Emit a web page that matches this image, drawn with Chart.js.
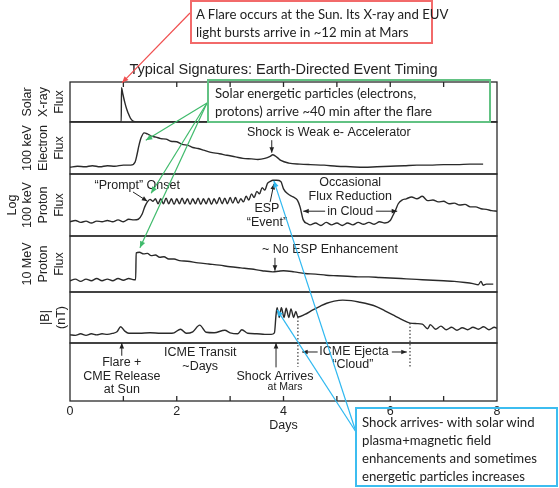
<!DOCTYPE html>
<html>
<head>
<meta charset="utf-8">
<script src="https://cdn.jsdelivr.net/npm/chart.js@4.4.1/dist/chart.umd.min.js"></script>
<style>
  html, body { margin: 0; padding: 0; background: #fff; }
  #wrap { position: relative; width: 559px; height: 488px; overflow: hidden; }
  .note { position: absolute; box-sizing: border-box; font-family: Lato, 'Open Sans', sans-serif;
          font-size: 13.2px; line-height: 18px; color: #222; white-space: nowrap; }
  #noteFlare { left: 190px; top: 0px; width: 243px; height: 44px; border: 2px solid #f26a6a; padding: 3px 4px; }
  #noteSep   { left: 207px; top: 79px; width: 284px; height: 44px; border: 2px solid #62c283; padding: 3px 6px; }
  #noteShock { left: 355px; top: 407px; width: 203px; height: 80px; border: 2px solid #3cbdf0; padding: 4px 5px; }
</style>
</head>
<body>
<div id="wrap">
  <canvas id="chart"></canvas>
  <div class="note" id="noteFlare">A Flare occurs at the Sun. Its X-ray and EUV<br>light bursts arrive in ~12 min at Mars</div>
  <div class="note" id="noteSep">Solar energetic particles (electrons,<br>protons) arrive ~40 min after the flare</div>
  <div class="note" id="noteShock">Shock arrives- with solar wind<br>plasma+magnetic field<br>enhancements and sometimes<br>energetic particles increases</div>
</div>
<script>
// [day, relative level in panel]
const xrayFlux = [[0,0],[0.96,0],[0.965,0.86],[0.99,0.7],[1.03,0.47],[1.06,0.33],[1.09,0.22],[1.13,0.1],[1.18,0.02],[1.25,0],[8,0]];

const electronFlux = [[0,0.13],[0.14,0.15],[0.28,0.14],[0.42,0.16],[0.56,0.14],[0.7,0.16],[0.84,0.15],[1.0,0.17],
  [1.14,0.17],[1.22,0.23],[1.255,0.37],[1.29,0.54],[1.33,0.69],[1.39,0.79],[1.45,0.77],[1.52,0.73],
  [1.61,0.71],[1.70,0.68],[1.80,0.67],[1.89,0.63],[2.0,0.62],[2.10,0.57],[2.21,0.55],[2.30,0.51],
  [2.40,0.49],[2.50,0.46],[2.62,0.42],[2.80,0.39],[2.94,0.36],[3.10,0.33],[3.24,0.30],[3.40,0.29],
  [3.52,0.28],[3.65,0.30],[3.75,0.34],[3.80,0.37],[3.88,0.32],[3.95,0.26],[4.10,0.21],[4.31,0.19],
  [4.50,0.18],[4.76,0.17],[5.0,0.15],[5.25,0.14],[5.51,0.13],[5.75,0.14],[6.0,0.15],[6.26,0.16],
  [6.5,0.17],[6.74,0.17],[7.0,0.18],[7.25,0.18],[7.49,0.19],[7.74,0.19]];

const protonLowFlux = [[0,0.23],[0.1,0.25],[0.2,0.22],[0.3,0.24],[0.4,0.21],[0.5,0.24],[0.6,0.23],[0.7,0.25],
  [0.8,0.23],[0.9,0.26],[1.0,0.23],[1.1,0.27],[1.2,0.26],[1.28,0.27],[1.35,0.35],[1.40,0.47],[1.45,0.55],
  [1.50,0.59],[1.55,0.56],[1.60,0.60],[1.65,0.52],[1.70,0.60],[1.75,0.52],[1.80,0.61],[1.85,0.52],
  [1.90,0.60],[1.95,0.51],[2.00,0.60],[2.05,0.52],[2.10,0.61],[2.15,0.52],[2.20,0.60],[2.25,0.51],
  [2.30,0.60],[2.35,0.52],[2.40,0.61],[2.45,0.51],[2.50,0.60],[2.55,0.52],[2.60,0.61],[2.65,0.51],
  [2.70,0.60],[2.75,0.52],[2.80,0.62],[2.85,0.52],[2.90,0.61],[2.95,0.52],[3.00,0.62],[3.05,0.53],
  [3.10,0.62],[3.15,0.53],[3.20,0.60],[3.25,0.55],[3.30,0.64],[3.35,0.58],[3.40,0.68],[3.45,0.62],
  [3.50,0.72],[3.55,0.68],[3.60,0.78],[3.65,0.74],[3.70,0.85],[3.75,0.88],[3.80,0.90],[3.87,0.90],
  [3.95,0.88],[4.00,0.76],[4.08,0.68],[4.18,0.63],[4.26,0.58],[4.31,0.47],[4.37,0.26],[4.45,0.20],
  [4.50,0.18],[4.60,0.21],[4.70,0.17],[4.80,0.22],[4.90,0.18],[5.00,0.21],[5.10,0.17],[5.20,0.21],
  [5.30,0.18],[5.40,0.22],[5.50,0.19],[5.60,0.22],[5.70,0.19],[5.80,0.23],[5.90,0.21],[6.00,0.25],
  [6.05,0.33],[6.10,0.42],[6.15,0.52],[6.22,0.58],[6.30,0.60],[6.40,0.63],[6.50,0.60],[6.60,0.64],
  [6.70,0.57],[6.80,0.58],[6.90,0.55],[7.00,0.56],[7.10,0.52],[7.20,0.53],[7.30,0.50],[7.40,0.51],
  [7.50,0.47],[7.60,0.47],[7.70,0.44],[7.80,0.43],[7.90,0.41],[8.00,0.40]];

const protonHighFlux = [[0,0.20],[0.1,0.23],[0.2,0.19],[0.3,0.23],[0.4,0.20],[0.5,0.24],[0.6,0.20],[0.7,0.23],
  [0.8,0.20],[0.9,0.24],[1.0,0.21],[1.1,0.24],[1.2,0.22],[1.23,0.22],[1.24,0.70],[1.30,0.71],[1.38,0.68],
  [1.45,0.69],[1.52,0.65],[1.60,0.66],[1.68,0.62],[1.76,0.63],[1.85,0.59],[1.95,0.59],[2.05,0.56],
  [2.2,0.55],[2.4,0.52],[2.6,0.50],[2.8,0.48],[3.0,0.45],[3.2,0.43],[3.4,0.41],[3.6,0.38],[3.8,0.36],
  [3.9,0.37],[4.0,0.38],[4.2,0.36],[4.4,0.33],[4.6,0.32],[4.8,0.30],[5.0,0.29],[5.2,0.28],[5.4,0.27],
  [5.6,0.27],[5.8,0.26],[6.0,0.25],[6.2,0.24],[6.4,0.23],[6.6,0.22],[6.8,0.21],[7.0,0.20],[7.2,0.19],
  [7.4,0.17],[7.55,0.15],[7.65,0.13],[7.70,0.19],[7.74,0.12],[7.80,0.14],[7.93,0.14]];

const fieldB = [[0,0.16],[0.1,0.15],[0.2,0.18],[0.3,0.15],[0.4,0.18],[0.5,0.16],[0.6,0.18],[0.7,0.17],
  [0.8,0.19],[0.88,0.22],[0.95,0.32],[1.02,0.24],[1.10,0.19],[1.3,0.19],[1.5,0.20],[1.7,0.19],[1.85,0.19],
  [1.95,0.20],[2.07,0.27],[2.18,0.19],[2.3,0.22],[2.43,0.35],[2.55,0.21],[2.7,0.20],[2.9,0.25],[3.0,0.20],
  [3.14,0.18],[3.22,0.26],[3.33,0.19],[3.5,0.18],[3.65,0.17],[3.77,0.17],[3.83,0.20],[3.86,0.55],[3.88,0.69],
  [3.92,0.50],[3.96,0.69],[4.01,0.50],[4.05,0.68],[4.10,0.50],[4.14,0.67],[4.19,0.50],[4.23,0.62],[4.27,0.51],
  [4.40,0.56],[4.55,0.65],[4.70,0.73],[4.81,0.78],[4.95,0.82],[5.11,0.84],[5.27,0.83],[5.43,0.80],[5.60,0.76],
  [5.75,0.71],[5.90,0.63],[6.05,0.55],[6.20,0.47],[6.37,0.39],[6.5,0.38],[6.6,0.37],[6.7,0.28],[6.75,0.36],
  [6.85,0.27],[6.95,0.33],[7.05,0.26],[7.15,0.31],[7.25,0.25],[7.35,0.30],[7.45,0.26],[7.55,0.31],[7.65,0.27],
  [7.75,0.32],[7.85,0.26],[7.95,0.31],[8.0,0.29]];

const dayTicks = [0, 1, 2, 3, 4, 5, 6, 7, 8];
const dayLabels = ['0', '', '2', '', '4', '', '6', '', '8'];

// panels top to bottom: id, axis title lines, height share
const panelIds = ['pX', 'pE', 'pP', 'pM', 'pB', 'pA'];
const panelTitles = [['Solar', 'X-ray', 'Flux'], ['100 keV', 'Electron', 'Flux'], ['100 keV', 'Proton', 'Flux'],
                     ['10 MeV', 'Proton', 'Flux'], ['|B|', '(nT)'], []];
const panelShares = [40, 52, 62, 56, 51, 58];

// annotation text: panel, day, level, text
const panelNotes = [
  ['pE', 4.85, 0.79, 'Shock is Weak e- Accelerator'],
  ['pP', 1.26, 0.81, '“Prompt” Onset'],
  ['pP', 3.69, 0.45, 'ESP'],
  ['pP', 3.69, 0.22, '“Event”'],
  ['pP', 5.25, 0.855, 'Occasional'],
  ['pP', 5.25, 0.63, 'Flux Reduction'],
  ['pP', 5.25, 0.40, 'in Cloud'],
  ['pM', 4.87, 0.75, '~ No ESP Enhancement'],
  ['pA', 0.97, 0.655, 'Flare +'],
  ['pA', 0.97, 0.414, 'CME Release'],
  ['pA', 0.97, 0.19, 'at Sun'],
  ['pA', 2.44, 0.83, 'ICME Transit'],
  ['pA', 2.44, 0.59, '~Days'],
  ['pA', 3.84, 0.43, 'Shock Arrives'],
  ['pA', 4.03, 0.24, 'at Mars', 10.5],
  ['pA', 5.32, 0.845, 'ICME Ejecta'],
  ['pA', 5.30, 0.62, '“Cloud”']
];
// black pointers: panel, from day, from level, to day, to level
const panelPointers = [
  ['pE', 3.78, 0.65, 3.78, 0.41],
  ['pP', 1.18, 0.71, 1.45, 0.56],
  ['pP', 3.75, 0.55, 3.82, 0.84],
  ['pP', 4.78, 0.40, 4.37, 0.40],
  ['pP', 5.73, 0.40, 6.13, 0.40],
  ['pM', 3.84, 0.61, 3.84, 0.38],
  ['pA', 0.97, 0.78, 0.97, 1.0],
  ['pA', 3.86, 0.58, 3.86, 1.0],
  ['pA', 4.64, 0.845, 4.35, 0.845],
  ['pA', 6.03, 0.845, 6.31, 0.845]
];
// callout arrows: colour, start pixel (box edge), target panel, day, level
const calloutArrows = [
  ['#f05050', 190, 13, 'pX', 0.975, 0.98],
  ['#3fba6b', 207, 103, 'pE', 1.42, 0.65],
  ['#3fba6b', 207, 103, 'pP', 1.52, 0.69],
  ['#3fba6b', 207, 103, 'pM', 1.31, 0.79],
  ['#2fb8f0', 356, 432, 'pP', 3.82, 0.89],
  ['#2fb8f0', 356, 432, 'pB', 3.88, 0.65]
];
const cloudEdges = [[4.27, 0.51], [6.37, 0.39]];

const FONT = "'Liberation Sans', Arial, sans-serif";
Chart.defaults.font.family = FONT;
Chart.defaults.font.size = 12;
Chart.defaults.color = '#222';

function arrow(ctx, x1, y1, x2, y2, color, head) {
  const ang = Math.atan2(y2 - y1, x2 - x1);
  ctx.strokeStyle = color; ctx.fillStyle = color;
  ctx.beginPath(); ctx.moveTo(x1, y1); ctx.lineTo(x2, y2); ctx.stroke();
  ctx.beginPath();
  ctx.moveTo(x2, y2);
  ctx.lineTo(x2 - head * Math.cos(ang - 0.4), y2 - head * Math.sin(ang - 0.4));
  ctx.lineTo(x2 - head * Math.cos(ang + 0.4), y2 - head * Math.sin(ang + 0.4));
  ctx.closePath(); ctx.fill();
}

const decorations = {
  id: 'decorations',
  afterDatasetsDraw(chart) {
    const {ctx, chartArea: a, scales} = chart;
    const x = scales.x;
    ctx.save();
    // frames
    ctx.strokeStyle = '#2a2a2a'; ctx.lineWidth = 1.3;
    panelIds.forEach(id => {
      const s = scales[id];
      ctx.strokeRect(a.left, s.top, a.right - a.left, s.bottom - s.top);
    });
    // inner ticks top and bottom
    dayTicks.slice(1, -1).forEach(d => {
      const px = x.getPixelForValue(d);
      ctx.beginPath();
      ctx.moveTo(px, a.top); ctx.lineTo(px, a.top + 5);
      ctx.moveTo(px, a.bottom); ctx.lineTo(px, a.bottom - 5);
      ctx.stroke();
    });
    // dotted cloud boundaries
    ctx.setLineDash([1.5, 2]); ctx.lineWidth = 1.1;
    cloudEdges.forEach(([d, v]) => {
      const px = x.getPixelForValue(d);
      ctx.beginPath();
      ctx.moveTo(px, scales.pB.getPixelForValue(v));
      ctx.lineTo(px, scales.pA.getPixelForValue(0.59));
      ctx.stroke();
    });
    ctx.setLineDash([]);
    // text notes
    ctx.fillStyle = '#222'; ctx.textAlign = 'center'; ctx.textBaseline = 'middle';
    panelNotes.forEach(([id, d, v, t, size]) => {
      ctx.font = (size || 12.5) + 'px ' + FONT;
      ctx.fillText(t, x.getPixelForValue(d), scales[id].getPixelForValue(v));
    });
    ctx.lineWidth = 1;
    panelPointers.forEach(([id, d1, v1, d2, v2]) => {
      const s = scales[id];
      arrow(ctx, x.getPixelForValue(d1), s.getPixelForValue(v1), x.getPixelForValue(d2), s.getPixelForValue(v2), '#222', 6);
    });
    // title and shared label
    ctx.font = '14.5px ' + FONT;
    ctx.fillText('Typical Signatures: Earth-Directed Event Timing', (a.left + a.right) / 2, 70);
    ctx.save();
    ctx.translate(13, 205); ctx.rotate(-Math.PI / 2);
    ctx.font = '12.5px ' + FONT;
    ctx.fillText('Log', 0, 0);
    ctx.restore();
    // callout arrows
    ctx.lineWidth = 1.2;
    calloutArrows.forEach(([c, sx, sy, id, d, v]) => {
      arrow(ctx, sx, sy, x.getPixelForValue(d), scales[id].getPixelForValue(v), c, 7);
    });
    ctx.restore();
  }
};

const series = [xrayFlux, electronFlux, protonLowFlux, protonHighFlux, fieldB];
const datasets = series.map((pts, i) => ({
  data: pts.map(([d, v]) => ({x: d, y: v})),
  yAxisID: panelIds[i],
  borderColor: '#2a2a2a',
  borderWidth: 1.4,
  pointRadius: 0,
  cubicInterpolationMode: 'monotone',
  fill: false
}));

const scales = {
  x: {
    type: 'linear', min: 0, max: 8,
    afterBuildTicks: s => { s.ticks = dayTicks.map(v => ({value: v})); },
    ticks: { callback: (v, i) => dayLabels[i], maxRotation: 0, autoSkip: false, padding: 3, font: {size: 12.5} },
    grid: { display: false, drawTicks: false },
    border: { display: false },
    title: { display: true, text: 'Days', padding: 0, font: {size: 12.5} },
    afterFit: s => { s.height = 32; }
  }
};
// stacked axes: later entries are placed higher, so add bottom panel first
panelIds.slice().reverse().forEach(id => {
  const i = panelIds.indexOf(id);
  scales[id] = {
    type: 'linear', position: 'left', stack: 'panels', stackWeight: panelShares[i],
    min: 0, max: 1,
    ticks: { display: false },
    grid: { display: false, drawTicks: false },
    border: { display: false },
    title: { display: panelTitles[i].length > 0, text: panelTitles[i], padding: {top: id === 'pB' ? 18 : 0, bottom: 0},
             font: {size: 12.5, lineHeight: 1.25} },
    afterFit: s => { s.width = 50; }
  };
});

new Chart(document.getElementById('chart'), {
  type: 'line',
  data: { datasets },
  options: {
    responsive: true, maintainAspectRatio: false, animation: false,
    layout: { padding: { left: 20, right: 62, top: 82, bottom: 55 } },
    plugins: { legend: { display: false }, tooltip: { enabled: false } },
    scales
  },
  plugins: [decorations]
});
</script>
</body>
</html>
